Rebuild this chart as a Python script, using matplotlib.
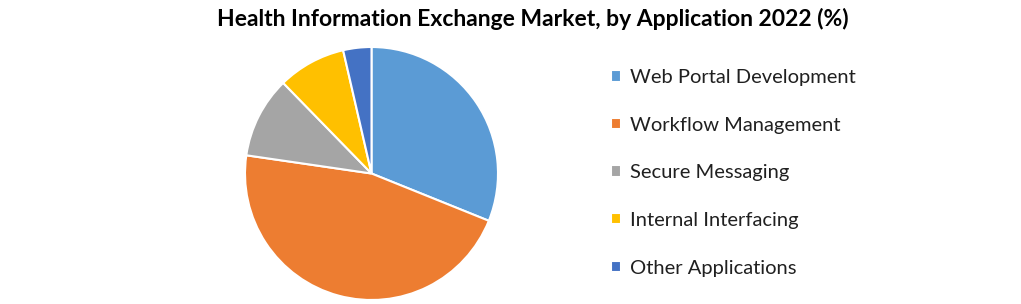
import matplotlib.pyplot as plt

labels = ['Web Portal Development', 'Workflow Management', 'Secure Messaging',
          'Internal Interfacing', 'Other Applications']
shares = [31.1, 46.2, 10.4, 8.7, 3.6]
colors = ['#5B9BD5', '#ED7D31', '#A5A5A5', '#FFC000', '#4472C4']

plt.rcParams['font.family'] = ['Lato', 'DejaVu Sans']

fig = plt.figure(figsize=(10.21, 3.04), dpi=100)

W, H = 1021, 304
cx, cy, r = 371.5, 173.5, 126.5
ax = fig.add_axes([(cx - r) / W, 1 - (cy + r) / H, 2 * r / W, 2 * r / H])
wedges, _ = ax.pie(shares, colors=colors, startangle=90, counterclock=False,
                   radius=1, wedgeprops=dict(edgecolor='white', linewidth=1.5))
ax.set_xlim(-1, 1)
ax.set_ylim(-1, 1)
ax.set_aspect('equal')

fig.text(533 / W, 1 - 19 / H, 'Health Information Exchange Market, by Application 2022 (%)',
         ha='center', va='center', fontsize=16.5, fontweight='bold')

leg = fig.legend(wedges, labels, loc='upper left', bbox_to_anchor=(601 / W, 1 - 59 / H),
                 frameon=False, fontsize=14.5, handlelength=0.5, handleheight=0.5,
                 handletextpad=0.45, labelspacing=1.52, borderpad=0)
for t in leg.get_texts():
    t.set_color('#202020')

fig.savefig('out.png', dpi=100)
